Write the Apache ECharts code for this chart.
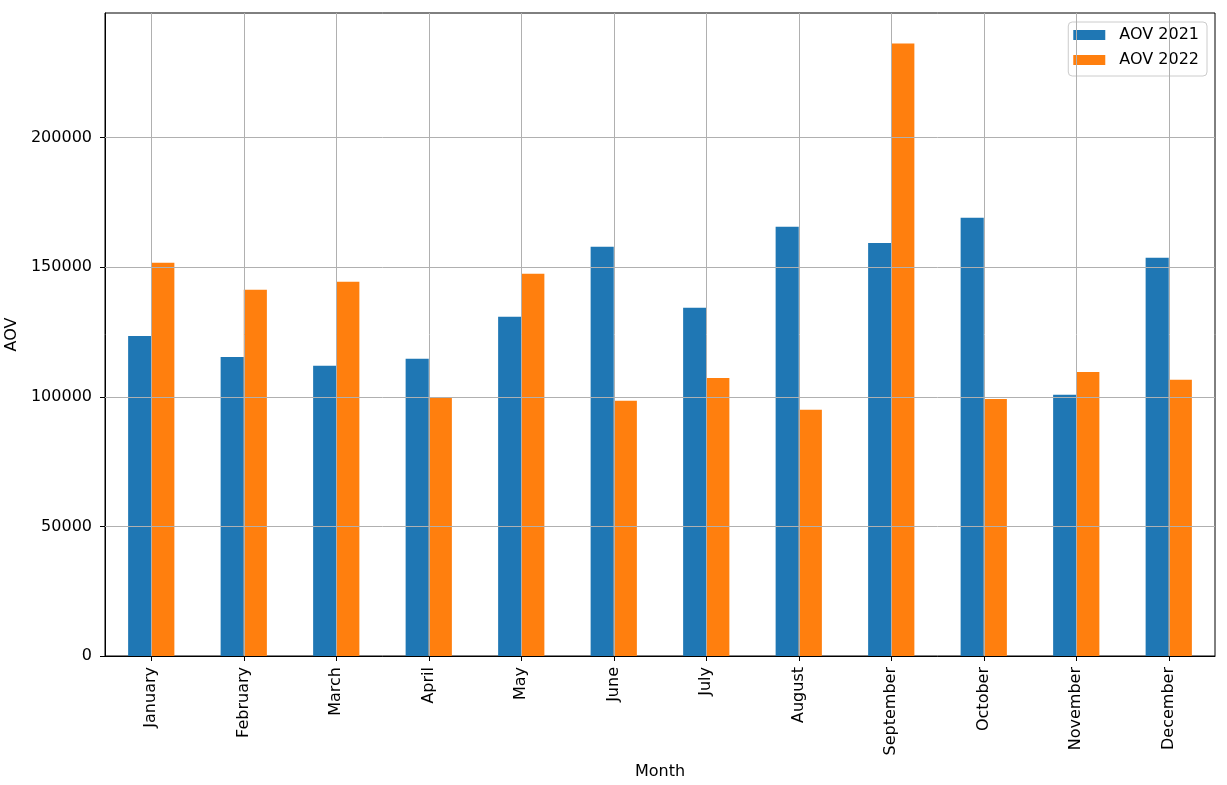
<!DOCTYPE html>
<html>
<head>
<meta charset="utf-8">
<script src="https://cdn.jsdelivr.net/npm/echarts@6/dist/echarts.min.js"></script>
<style>
html,body{margin:0;padding:0;background:#fff;}
#chart{width:1227px;height:785px;}
</style>
</head>
<body>
<div id="chart"></div>
<script>
const months = ['January','February','March','April','May','June','July','August','September','October','November','December'];
const aov2021 = [123500, 115400, 112000, 114700, 130900, 157900, 134400, 165600, 159400, 169100, 100800, 153700];
const aov2022 = [151700, 141300, 144400, 99600, 147500, 98500, 107300, 95000, 236300, 99200, 109600, 106600];
const yTicks = [50000, 100000, 150000, 200000];
const yMax = 248100;

const font = 'DejaVu Sans';
const gridColor = '#b0b0b0';
const fs = 16;

const chart = echarts.init(document.getElementById('chart'), null, {renderer: 'canvas'});
chart.setOption({
  animation: false,
  backgroundColor: '#fff',
  textStyle: {fontFamily: font},
  grid: {left: 105, right: 12, top: 13, bottom: 129, show: true, borderColor: '#000', borderWidth: 1, backgroundColor: 'transparent', containLabel: false, outerBoundsMode: 'none'},
  legend: {
    data: ['AOV 2021', 'AOV 2022'],
    orient: 'vertical',
    right: 20, top: 22,
    icon: 'rect',
    itemWidth: 32, itemHeight: 10,
    itemGap: 9,
    padding: [5, 8, 8, 5],
    borderColor: '#cccccc', borderWidth: 1, borderRadius: 4,
    backgroundColor: 'rgba(255,255,255,0.8)',
    textStyle: {fontFamily: font, fontSize: fs, color: '#000', lineHeight: 16, padding: [0, 0, 0, 9]}
  },
  xAxis: {
    type: 'category',
    data: months,
    boundaryGap: true,
    axisLine: {show: true, lineStyle: {color: '#000', width: 1}},
    axisTick: {show: true, alignWithLabel: true, length: 5, lineStyle: {color: '#000'}},
    axisLabel: {rotate: 90, fontSize: fs, color: '#000', margin: 11, fontFamily: font},
    splitLine: {show: false},
    name: 'Month',
    nameLocation: 'middle',
    nameGap: 108,
    nameTextStyle: {fontSize: fs, color: '#000', fontFamily: font}
  },
  yAxis: {
    type: 'value',
    min: 0, max: yMax, interval: 50000,
    axisLine: {show: true, lineStyle: {color: '#000', width: 1}},
    axisTick: {show: true, length: 5, lineStyle: {color: '#000'}},
    axisLabel: {fontSize: fs, color: '#000', margin: 13, showMaxLabel: false, fontFamily: font, formatter: v => String(v)},
    splitLine: {show: false},
    name: 'AOV',
    nameLocation: 'middle',
    nameRotate: 90,
    nameGap: 81,
    nameTextStyle: {fontSize: fs, color: '#000', fontFamily: font}
  },
  series: [
    {name: 'AOV 2021', type: 'bar', data: aov2021, barWidth: '25%', barGap: '0%', itemStyle: {color: '#1f77b4'}, z: 2},
    {name: 'AOV 2022', type: 'bar', data: aov2022, barWidth: '25%', barGap: '0%', itemStyle: {color: '#ff7f0e'}, z: 2},
    {
      name: 'grid', type: 'line', data: [], z: 5, silent: true,
      markLine: {
        silent: true, symbol: 'none', animation: false,
        label: {show: false},
        lineStyle: {color: gridColor, width: 1, type: 'solid'},
        emphasis: {disabled: true},
        data: months.map(m => ({xAxis: m})).concat(yTicks.map(v => ({yAxis: v})))
      }
    }
  ]
});
</script>
</body>
</html>
